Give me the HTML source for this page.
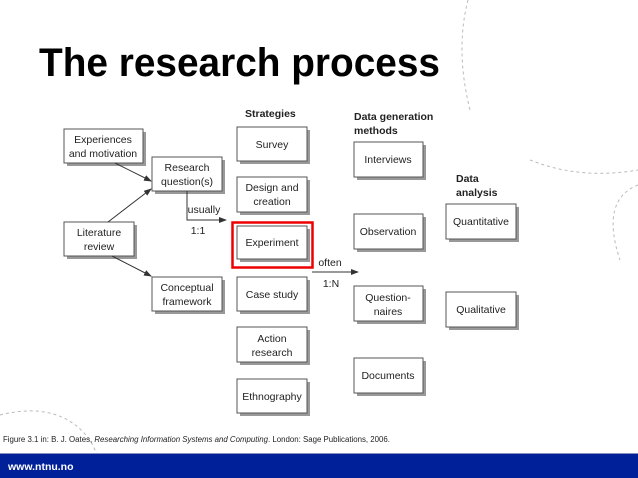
<!DOCTYPE html>
<html><head><meta charset="utf-8"><style>
html,body{margin:0;padding:0;background:#fff;}
svg{display:block;}
</style></head><body>
<svg width="638" height="478" viewBox="0 0 638 478" xmlns="http://www.w3.org/2000/svg" font-family="Liberation Sans, sans-serif">
<defs><marker id="a" markerWidth="8" markerHeight="6" refX="7" refY="3" orient="auto" markerUnits="userSpaceOnUse"><path d="M0,0 L8,3 L0,6 z" fill="#333"/></marker></defs>
<g fill="none" stroke="#bbb" stroke-width="1" stroke-dasharray="3,3">
<path d="M468,0 Q455,50 470,110"/>
<path d="M530,160 Q580,180 638,170"/>
<path d="M638,185 Q600,200 620,260"/>
<path d="M0,415 Q60,400 90,440 Q100,460 110,478"/>
</g>
<text x="39" y="76" font-size="40" font-weight="bold" textLength="401" lengthAdjust="spacingAndGlyphs">The research process</text>
<g font-size="10.5" fill="#222" text-anchor="middle">
<g fill="#999">
<rect x="67" y="132" width="79" height="34"/><rect x="155" y="160" width="70" height="34"/>
<rect x="67" y="225" width="70" height="34"/><rect x="155" y="280" width="70" height="34"/>
<rect x="240" y="130" width="70" height="34"/><rect x="240" y="180" width="70" height="35"/>
<rect x="240" y="229" width="70" height="33"/><rect x="240" y="280" width="70" height="34"/>
<rect x="240" y="330" width="70" height="35"/><rect x="240" y="382" width="70" height="34"/>
<rect x="357" y="145" width="69" height="35"/><rect x="357" y="217" width="69" height="35"/>
<rect x="357" y="289" width="69" height="35"/><rect x="357" y="361" width="69" height="35"/>
<rect x="449" y="207" width="70" height="35"/><rect x="449" y="295" width="70" height="35"/>
</g>
<g fill="#fff" stroke="#555" stroke-width="1">
<rect x="64" y="129" width="79" height="34"/><rect x="152" y="157" width="70" height="34"/>
<rect x="64" y="222" width="70" height="34"/><rect x="152" y="277" width="70" height="34"/>
<rect x="237" y="127" width="70" height="34"/><rect x="237" y="177" width="70" height="35"/>
<rect x="237" y="226" width="70" height="33"/><rect x="237" y="277" width="70" height="34"/>
<rect x="237" y="327" width="70" height="35"/><rect x="237" y="379" width="70" height="34"/>
<rect x="354" y="142" width="69" height="35"/><rect x="354" y="214" width="69" height="35"/>
<rect x="354" y="286" width="69" height="35"/><rect x="354" y="358" width="69" height="35"/>
<rect x="446" y="204" width="70" height="35"/><rect x="446" y="292" width="70" height="35"/>
</g>
<rect x="232.5" y="222.5" width="80" height="45" fill="none" stroke="#e00" stroke-width="2.5"/>
<text x="103" y="143">Experiences</text><text x="103" y="157">and motivation</text>
<text x="187" y="171">Research</text><text x="187" y="185">question(s)</text>
<text x="99" y="236">Literature</text><text x="99" y="250">review</text>
<text x="187" y="291">Conceptual</text><text x="187" y="305">framework</text>
<text x="272" y="148">Survey</text>
<text x="272" y="191">Design and</text><text x="272" y="205">creation</text>
<text x="272" y="246">Experiment</text>
<text x="272" y="298">Case study</text>
<text x="272" y="342">Action</text><text x="272" y="356">research</text>
<text x="272" y="400">Ethnography</text>
<text x="388" y="163">Interviews</text>
<text x="388" y="235">Observation</text>
<text x="388" y="301">Question-</text><text x="388" y="315">naires</text>
<text x="388" y="379">Documents</text>
<text x="481" y="225">Quantitative</text>
<text x="481" y="313">Qualitative</text>
<g font-weight="bold" text-anchor="start">
<text x="245" y="117">Strategies</text>
<text x="354" y="120">Data generation</text><text x="354" y="134">methods</text>
<text x="456" y="182">Data</text><text x="456" y="196">analysis</text>
</g>
<text x="204" y="213">usually</text><text x="198" y="234">1:1</text>
<text x="330" y="266">often</text><text x="331" y="287">1:N</text>
</g>
<g stroke="#333" stroke-width="1" fill="none">
<line x1="115" y1="163" x2="151" y2="181" marker-end="url(#a)"/>
<line x1="108" y1="222" x2="151" y2="189" marker-end="url(#a)"/>
<line x1="112" y1="256" x2="151" y2="276" marker-end="url(#a)"/>
<polyline points="187,191 187,220 226,220" marker-end="url(#a)"/>
<line x1="312" y1="272" x2="358" y2="272" marker-end="url(#a)"/>
</g>
<text x="3" y="442" font-size="8" fill="#222" textLength="387" lengthAdjust="spacingAndGlyphs">Figure 3.1 in: B. J. Oates, <tspan font-style="italic">Researching Information Systems and Computing</tspan>. London: Sage Publications, 2006.</text>
<rect x="0" y="454" width="638" height="24" fill="#00209a"/>
<line x1="0" y1="453.5" x2="638" y2="453.5" stroke="#8890c0"/>
<text x="8" y="470" font-size="10.5" font-weight="bold" fill="#fff">www.ntnu.no</text>
</svg>
</body></html>
